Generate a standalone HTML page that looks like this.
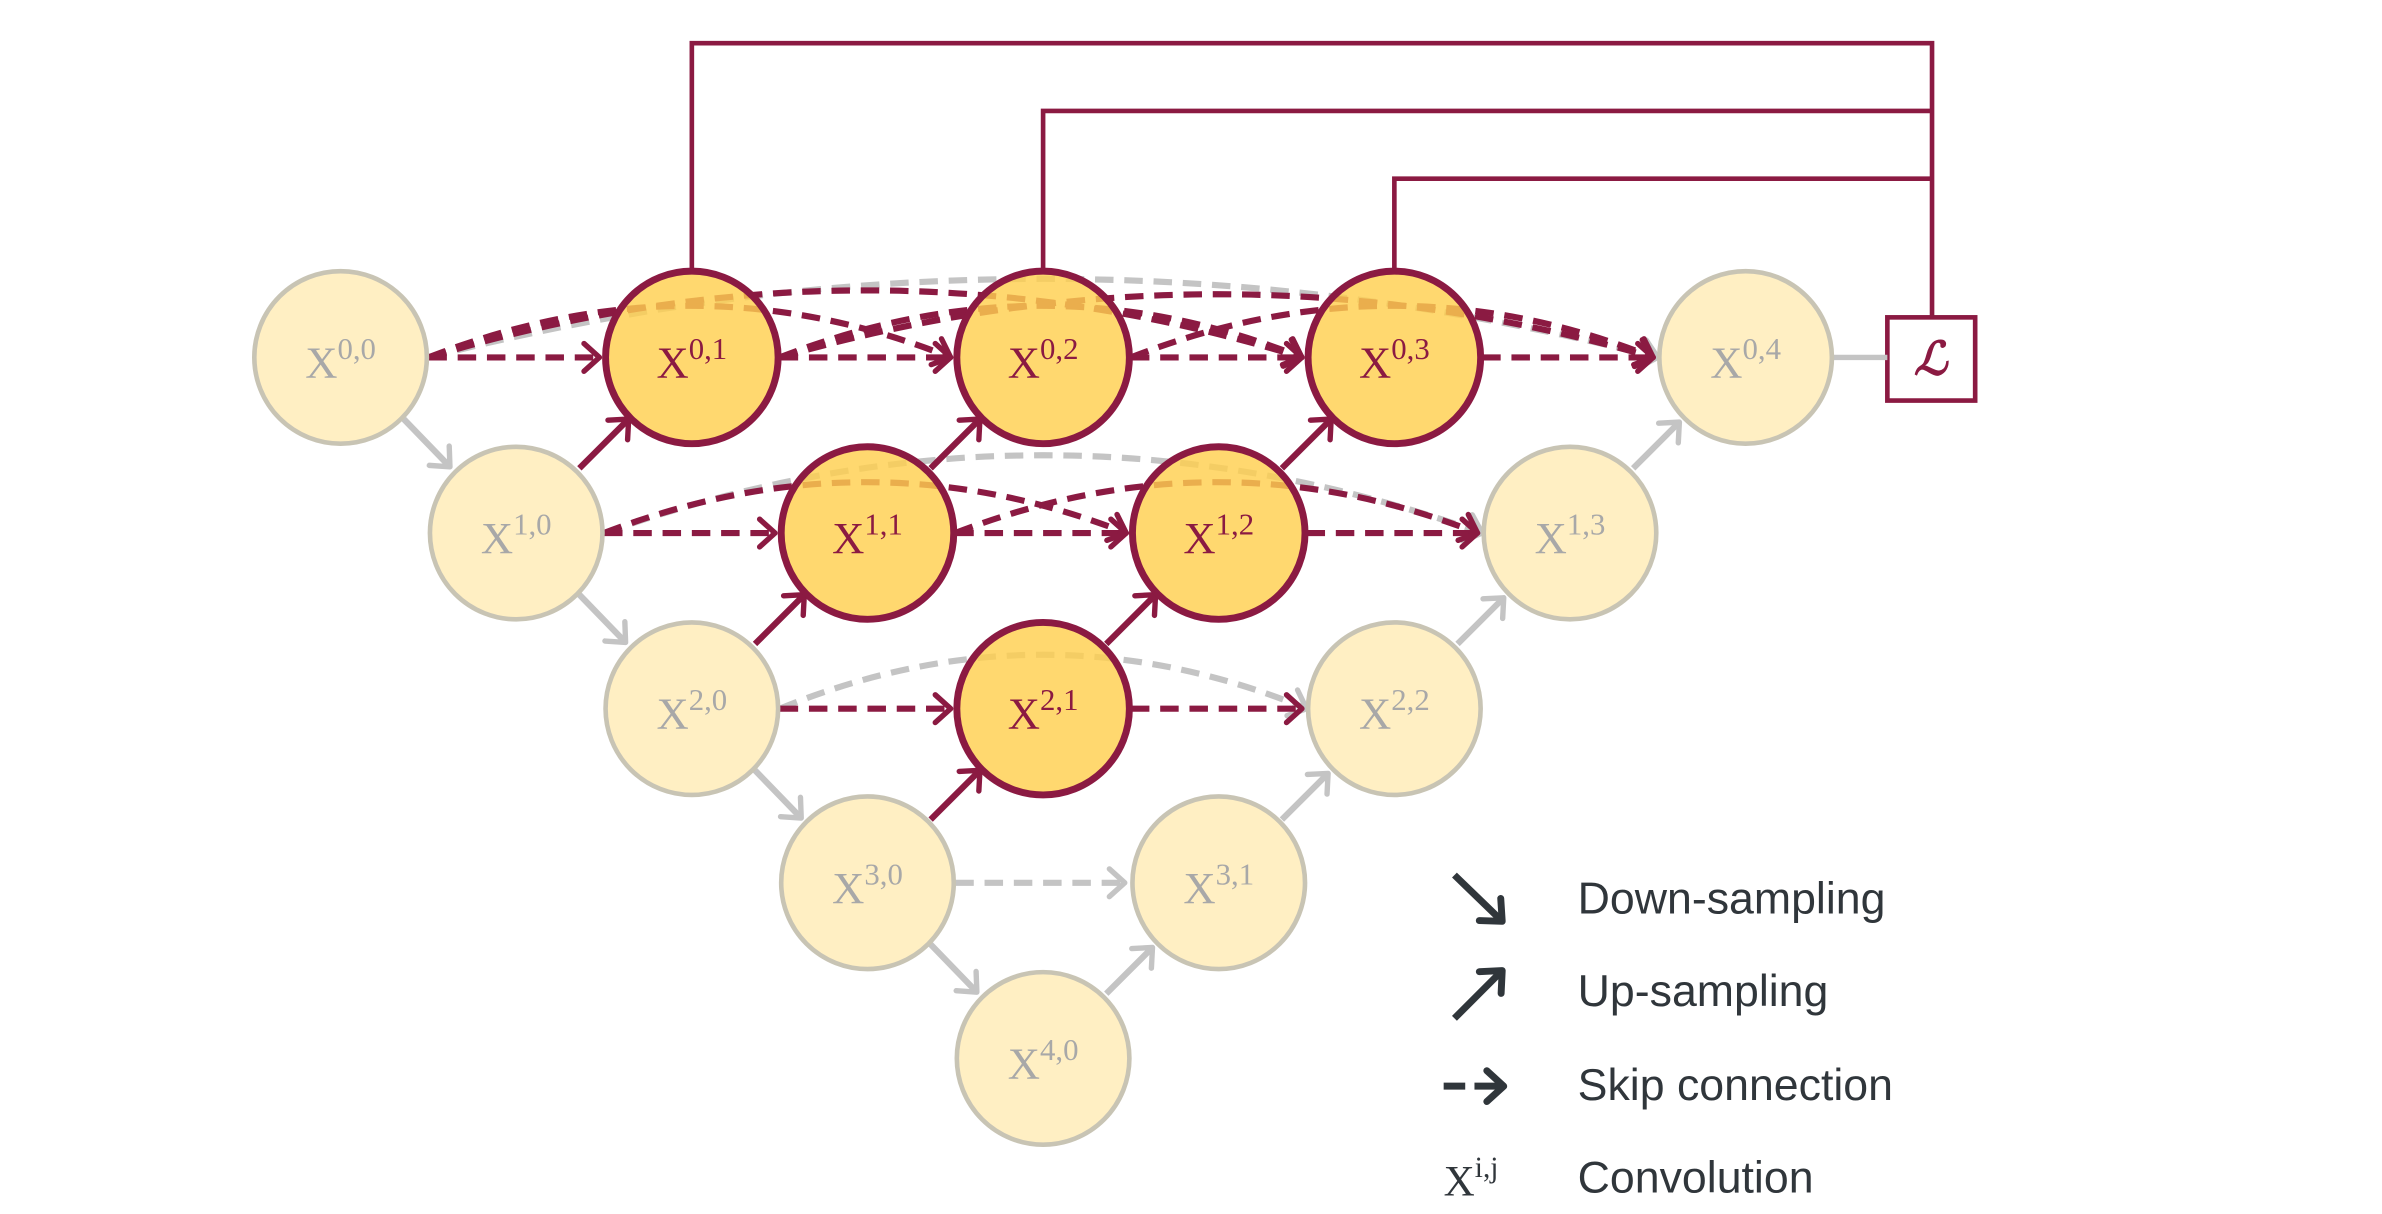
<!DOCTYPE html>
<html><head><meta charset="utf-8"><style>
html,body{margin:0;padding:0;background:#fff;}
svg{display:block;}
.nx{font-family:"Liberation Serif","DejaVu Serif",serif;}
.lg{font-family:"Liberation Sans",sans-serif;font-size:29px;fill:#30363b;}
</style></head><body>
<svg width="2382" height="1214" viewBox="0 0 1546 788" xmlns="http://www.w3.org/2000/svg">
<defs>
<marker id="ar" viewBox="0 0 12 12" refX="10" refY="6" markerWidth="12" markerHeight="12" markerUnits="userSpaceOnUse" orient="auto" overflow="visible">
<path d="M0,-3 L10,6 L0,15" fill="none" stroke="#8B1A42" stroke-width="3.5" stroke-linecap="round" stroke-linejoin="round"/></marker>
<marker id="ag" viewBox="0 0 12 12" refX="10" refY="6" markerWidth="12" markerHeight="12" markerUnits="userSpaceOnUse" orient="auto" overflow="visible">
<path d="M0,-3 L10,6 L0,15" fill="none" stroke="#C4C4C4" stroke-width="3.5" stroke-linecap="round" stroke-linejoin="round"/></marker>
<marker id="ak" viewBox="0 0 12 12" refX="10" refY="6" markerWidth="12" markerHeight="12" markerUnits="userSpaceOnUse" orient="auto" overflow="visible">
<path d="M-1,-4 L10,6 L-1,16" fill="none" stroke="#30363b" stroke-width="4.5" stroke-linecap="round" stroke-linejoin="round"/></marker>
</defs>

<g fill="none" stroke="#8B1A42" stroke-width="3">
<polyline points="449,175 449,28 1254,28 1254,205"/>
<polyline points="677,175 677,72 1254,72"/>
<polyline points="905,175 905,116 1254,116"/>
</g>
<rect x="1225" y="206" width="57" height="54" fill="#fff" stroke="#8B1A42" stroke-width="3"/>
<text x="1253" y="243" text-anchor="middle" class="nx" font-style="italic" font-weight="bold" font-size="30" fill="#8B1A42">ℒ</text>
<line x1="1190" y1="232" x2="1225" y2="232" stroke="#C4C4C4" stroke-width="3.5"/>

<g fill="none" stroke="#C4C4C4" stroke-width="4" stroke-dasharray="12,7">
<path d="M278,232 Q677,130 1076,232" marker-end="url(#ag)"/>
<path d="M392,346 Q677,245 962,346" marker-end="url(#ag)"/>
<path d="M506,460 Q677,390 848,460" marker-end="url(#ag)"/>
<line x1="620" y1="573" x2="730" y2="573" marker-end="url(#ag)"/>
</g>
<g fill="none" stroke="#8B1A42" stroke-width="4" stroke-dasharray="12,7">
<line x1="278" y1="232" x2="389" y2="232" marker-end="url(#ar)"/>
<line x1="506" y1="232" x2="617" y2="232" marker-end="url(#ar)"/>
<line x1="734" y1="232" x2="845" y2="232" marker-end="url(#ar)"/>
<line x1="962" y1="232" x2="1073" y2="232" marker-end="url(#ar)"/>
<path d="M278,232 Q449,165 617,232" marker-end="url(#ar)"/>
<path d="M278,232 Q563,145 845,232" marker-end="url(#ar)"/>
<path d="M506,232 Q677,165 845,232" marker-end="url(#ar)"/>
<path d="M506,232 Q791,150 1073,232" marker-end="url(#ar)"/>
<path d="M734,232 Q905,165 1073,232" marker-end="url(#ar)"/>
<line x1="392" y1="346" x2="503" y2="346" marker-end="url(#ar)"/>
<line x1="620" y1="346" x2="731" y2="346" marker-end="url(#ar)"/>
<line x1="848" y1="346" x2="959" y2="346" marker-end="url(#ar)"/>
<path d="M392,346 Q563,280 731,346" marker-end="url(#ar)"/>
<path d="M620,346 Q791,280 959,346" marker-end="url(#ar)"/>
<line x1="506" y1="460" x2="617" y2="460" marker-end="url(#ar)"/>
<line x1="734" y1="460" x2="845" y2="460" marker-end="url(#ar)"/>
</g>

<g stroke="#C4C4C4" stroke-width="4" marker-end="url(#ag)">
<line x1="262" y1="272" x2="292" y2="303"/>
<line x1="376" y1="386" x2="406" y2="417"/>
<line x1="490" y1="500" x2="520" y2="531"/>
<line x1="604" y1="613" x2="634" y2="644"/>
<line x1="718" y1="645" x2="748" y2="615"/>
<line x1="832" y1="532" x2="862" y2="502"/>
<line x1="946" y1="418" x2="976" y2="388"/>
<line x1="1060" y1="304" x2="1090" y2="274"/>
</g>
<g stroke="#8B1A42" stroke-width="4" marker-end="url(#ar)">
<line x1="376" y1="304" x2="408" y2="272"/>
<line x1="490" y1="418" x2="522" y2="386"/>
<line x1="604" y1="304" x2="636" y2="272"/>
<line x1="604" y1="532" x2="636" y2="500"/>
<line x1="718" y1="418" x2="750" y2="386"/>
<line x1="832" y1="304" x2="864" y2="272"/>
</g>

<g fill="#FFEEC0" stroke="#C8C4B4" stroke-width="3" fill-opacity="0.95">
<circle cx="221" cy="232" r="56"/><circle cx="335" cy="346" r="56"/>
<circle cx="449" cy="460" r="56"/><circle cx="563" cy="573" r="56"/>
<circle cx="677" cy="687" r="56"/><circle cx="791" cy="573" r="56"/>
<circle cx="905" cy="460" r="56"/><circle cx="1019" cy="346" r="56"/>
<circle cx="1133" cy="232" r="56"/>
</g>
<g fill="#FFD04F" fill-opacity="0.82" stroke="#8B1A42" stroke-width="4.5">
<circle cx="449" cy="232" r="56"/><circle cx="677" cy="232" r="56"/>
<circle cx="905" cy="232" r="56"/><circle cx="563" cy="346" r="56"/>
<circle cx="791" cy="346" r="56"/><circle cx="677" cy="460" r="56"/>
</g>

<g class="nx" font-size="29" text-anchor="middle">
<g fill="#A8A8A8">
<text x="221" y="245">X<tspan font-size="20" dy="-12">0,0</tspan></text>
<text x="335" y="359">X<tspan font-size="20" dy="-12">1,0</tspan></text>
<text x="449" y="473">X<tspan font-size="20" dy="-12">2,0</tspan></text>
<text x="563" y="586">X<tspan font-size="20" dy="-12">3,0</tspan></text>
<text x="677" y="700">X<tspan font-size="20" dy="-12">4,0</tspan></text>
<text x="791" y="586">X<tspan font-size="20" dy="-12">3,1</tspan></text>
<text x="905" y="473">X<tspan font-size="20" dy="-12">2,2</tspan></text>
<text x="1019" y="359">X<tspan font-size="20" dy="-12">1,3</tspan></text>
<text x="1133" y="245">X<tspan font-size="20" dy="-12">0,4</tspan></text>
</g>
<g fill="#8B1A42">
<text x="449" y="245">X<tspan font-size="20" dy="-12">0,1</tspan></text>
<text x="677" y="245">X<tspan font-size="20" dy="-12">0,2</tspan></text>
<text x="905" y="245">X<tspan font-size="20" dy="-12">0,3</tspan></text>
<text x="563" y="359">X<tspan font-size="20" dy="-12">1,1</tspan></text>
<text x="791" y="359">X<tspan font-size="20" dy="-12">1,2</tspan></text>
<text x="677" y="473">X<tspan font-size="20" dy="-12">2,1</tspan></text>
</g>
</g>

<g stroke="#30363b" stroke-width="4.5" fill="none">
<line x1="944" y1="568" x2="975" y2="598" marker-end="url(#ak)"/>
<line x1="944" y1="661" x2="975" y2="630" marker-end="url(#ak)"/>
<line x1="937" y1="705" x2="951" y2="705"/>
<line x1="957" y1="705" x2="976" y2="705" marker-end="url(#ak)"/>
</g>
<text x="1024" y="593" class="lg">Down-sampling</text>
<text x="1024" y="653" class="lg">Up-sampling</text>
<text x="1024" y="714" class="lg">Skip connection</text>
<text x="1024" y="774" class="lg">Convolution</text>
<text x="937" y="776" class="nx" font-size="28" fill="#30363b">X<tspan font-size="19" dy="-12">i,j</tspan></text>
</svg>
</body></html>
